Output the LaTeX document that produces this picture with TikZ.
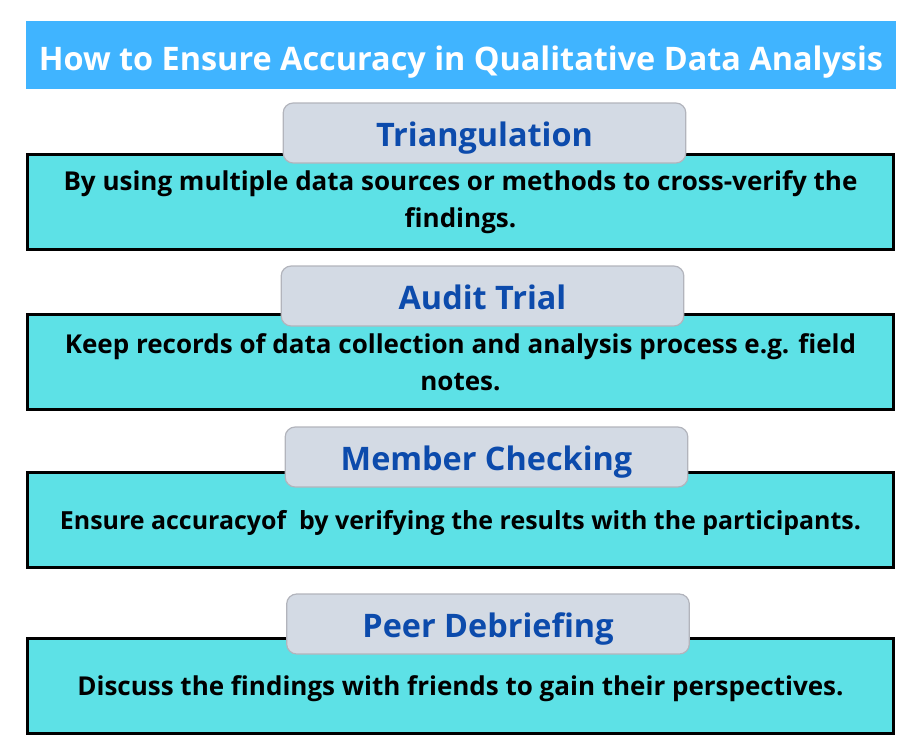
\documentclass[tikz,border=0pt]{standalone}
\usepackage{fontspec}
\setmainfont{Open Sans}
\usetikzlibrary{positioning}
\definecolor{titleblue}{RGB}{64,180,255}
\definecolor{boxcyan}{RGB}{93,225,230}
\definecolor{tabgray}{RGB}{211,218,228}
\definecolor{tabline}{RGB}{178,180,188}
\definecolor{tabtext}{RGB}{12,75,172}

\begin{document}
\begin{tikzpicture}[x=0.75pt,y=-0.75pt,font=\bfseries,
 titlebar/.style={fill=titleblue,minimum width=652.5pt,minimum height=51pt,inner sep=0pt,
   text=white,text height=22.5pt,text depth=0pt,font=\bfseries\fontsize{24.3}{30}\selectfont},
 infobox/.style={draw=black,line width=2.2pt,fill=boxcyan,minimum width=649.5pt,
   minimum height=71.25pt,inner sep=0pt,align=center,font=\bfseries\fontsize{19.5}{27.75}\selectfont},
 tabbox/.style={draw=tabline,line width=0.9pt,fill=tabgray,rounded corners=7.5pt,
   minimum width=302pt,minimum height=45pt,inner sep=0pt,text=tabtext,
   text height=20.2pt,text depth=0pt,font=\bfseries\fontsize{24.3}{30}\selectfont}]
\useasboundingbox (0,0) rectangle (924,753);
\node[titlebar] (title) at (461,55) {How to Ensure Accuracy in Qualitative Data Analysis};
% four items: text box first, then the tab on top of its upper edge
\node[infobox] (b1) at (460.5,202) {By using multiple data sources or methods to cross-verify the\\findings.};
\node[tabbox] (t1) at (484.5,133) {Triangulation};
\node[infobox] (b2) at (460.5,362) {Keep records of data collection and analysis process e.g. field\\notes.};
\node[tabbox] (t2) at (482.5,296) {Audit Trial};
\node[infobox,text depth=0pt,font=\bfseries\fontsize{18.7}{27.75}\selectfont] (b3) at (460.5,520) {Ensure accuracyof\ \ by verifying the results with the participants.};
\node[tabbox] (t3) at (486.5,457) {Member Checking};
\node[infobox,text depth=0pt] (b4) at (460.5,686) {Discuss the findings with friends to gain their perspectives.};
\node[tabbox] (t4) at (488,624) {Peer Debriefing};
\end{tikzpicture}
\end{document}
